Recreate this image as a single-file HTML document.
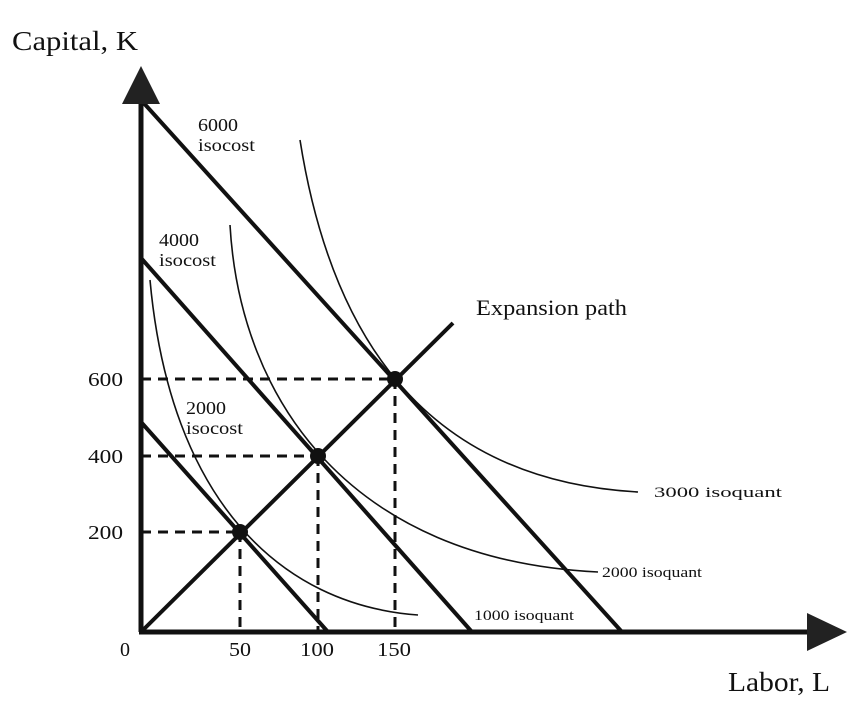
<!DOCTYPE html>
<html><head><meta charset="utf-8"><style>
html,body{margin:0;padding:0;background:#fff;}
svg{display:block;}
text{font-family:"Liberation Serif",serif;fill:#111;}
</style></head><body>
<svg width="868" height="710" viewBox="0 0 868 710" xmlns="http://www.w3.org/2000/svg">
<g stroke="#111" fill="none">
<g stroke-width="3" stroke-dasharray="10,7">
<line x1="141" y1="532" x2="240" y2="532"/>
<line x1="141" y1="456" x2="318" y2="456"/>
<line x1="141" y1="379" x2="395" y2="379"/>
<line x1="240" y1="532" x2="240" y2="632"/>
<line x1="318" y1="456" x2="318" y2="632"/>
<line x1="395" y1="379" x2="395" y2="632"/>
</g>
<g stroke-width="1.6">
<path d="M150,280 C170,500 280,605 418,615"/>
<path d="M230,225 C240,400 350,560 598,572"/>
<path d="M300,140 C330,330 420,480 638,492"/>
</g>
<g stroke-width="4">
<line x1="141" y1="422" x2="328" y2="632"/>
<line x1="141" y1="258" x2="472" y2="632"/>
<line x1="141" y1="100" x2="622" y2="632"/>
<line x1="141" y1="632" x2="453" y2="323"/>
</g>
<line x1="141" y1="95" x2="141" y2="632" stroke-width="5"/>
<line x1="139" y1="632" x2="810" y2="632" stroke-width="5"/>
</g>
<polygon points="141,66 122,104 160,104" fill="#222"/>
<polygon points="847,632 807,613 807,651" fill="#222"/>
<g fill="#111">
<circle cx="240" cy="532" r="8"/>
<circle cx="318" cy="456" r="8"/>
<circle cx="395" cy="379" r="8"/>
</g>
<text x="12" y="50" font-size="27" textLength="126" lengthAdjust="spacingAndGlyphs">Capital, K</text>
<text x="728" y="691" font-size="27" textLength="102" lengthAdjust="spacingAndGlyphs">Labor, L</text>
<text x="476" y="315" font-size="22" textLength="151" lengthAdjust="spacingAndGlyphs">Expansion path</text>
<g font-size="18">
<text x="198" y="131" textLength="40" lengthAdjust="spacingAndGlyphs">6000</text><text x="198" y="151" textLength="57" lengthAdjust="spacingAndGlyphs">isocost</text>
<text x="159" y="246" textLength="40" lengthAdjust="spacingAndGlyphs">4000</text><text x="159" y="266" textLength="57" lengthAdjust="spacingAndGlyphs">isocost</text>
<text x="186" y="414" textLength="40" lengthAdjust="spacingAndGlyphs">2000</text><text x="186" y="434" textLength="57" lengthAdjust="spacingAndGlyphs">isocost</text>
</g>
<g font-size="15">
<text x="654" y="497" textLength="128" lengthAdjust="spacingAndGlyphs">3000 isoquant</text>
<text x="602" y="577" textLength="100" lengthAdjust="spacingAndGlyphs">2000 isoquant</text>
<text x="474" y="620" textLength="100" lengthAdjust="spacingAndGlyphs">1000 isoquant</text>
</g>
<g font-size="20">
<text x="88" y="386" textLength="35" lengthAdjust="spacingAndGlyphs">600</text>
<text x="88" y="463" textLength="35" lengthAdjust="spacingAndGlyphs">400</text>
<text x="88" y="539" textLength="35" lengthAdjust="spacingAndGlyphs">200</text>
<text x="120" y="656">0</text>
<text x="229" y="656" textLength="22" lengthAdjust="spacingAndGlyphs">50</text>
<text x="300" y="656" textLength="34" lengthAdjust="spacingAndGlyphs">100</text>
<text x="377" y="656" textLength="34" lengthAdjust="spacingAndGlyphs">150</text>
</g>
</svg>
</body></html>
